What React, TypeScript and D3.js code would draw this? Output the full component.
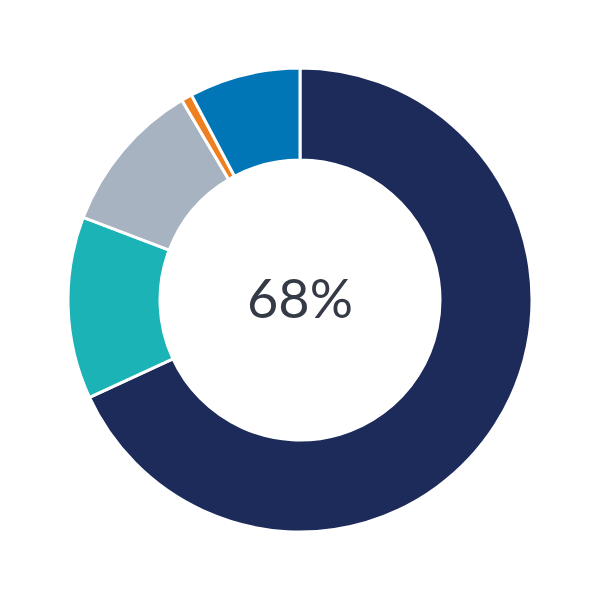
import React from "react";
import * as d3 from "d3";

const categories = ["Navy", "Teal", "Gray", "Orange", "Blue"];
const values = [68.1, 12.7, 10.7, 0.75, 7.75];
const colors = ["#1c2b5a", "#1bb3b6", "#a8b3c1", "#f0801f", "#0076b6"];
const centerLabel = "68%";

export default function App() {
  const width = 600;
  const height = 600;
  const cx = 300;
  const cy = 300;
  const outerR = 232;
  const innerR = 140;

  const pie = d3.pie<number>().sort(null).value((d) => d);
  const arcs = pie(values);
  const arc = d3.arc<d3.PieArcDatum<number>>().innerRadius(innerR).outerRadius(outerR);

  return (
    <svg
      width={width}
      height={height}
      style={{ position: "absolute", left: 0, top: 0, background: "#fff" }}
    >
      <g transform={`translate(${cx},${cy})`}>
        {arcs.map((a, i) => (
          <path
            key={categories[i]}
            d={arc(a) || ""}
            fill={colors[i]}
            stroke="#fff"
            strokeWidth={3}
          />
        ))}
        <text
          x={0}
          y={18}
          textAnchor="middle"
          fontFamily="Lato, 'Open Sans', sans-serif"
          fontWeight={400}
          fontSize={54}
          fill="#343a46"
        >
          {centerLabel}
        </text>
      </g>
    </svg>
  );
}
